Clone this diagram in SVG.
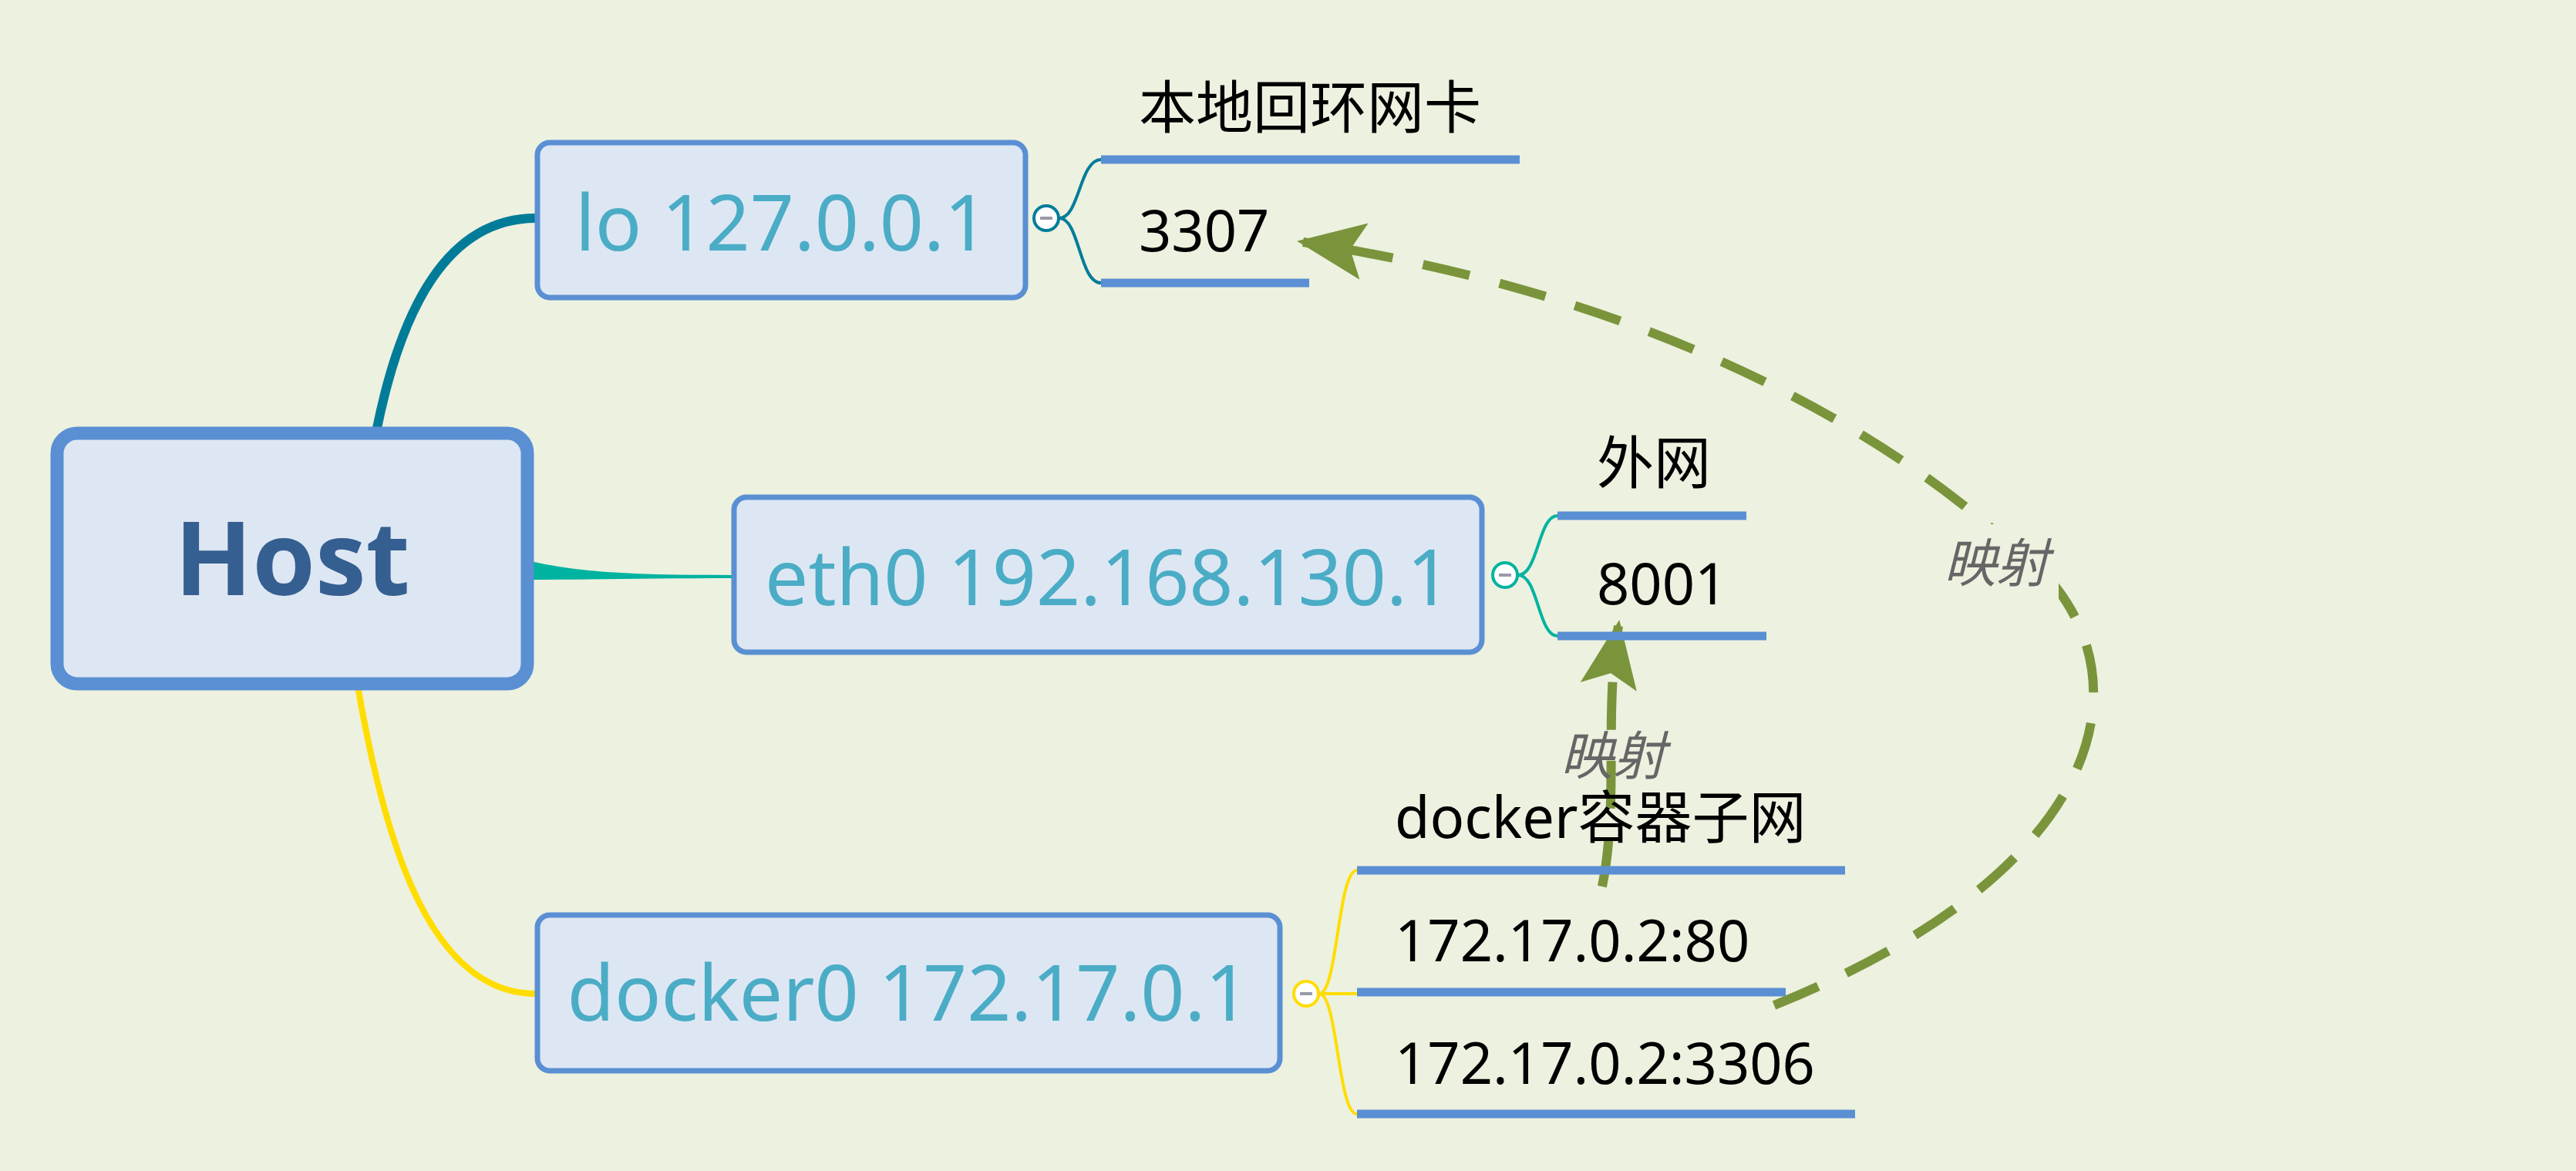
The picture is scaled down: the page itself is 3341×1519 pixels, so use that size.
<svg xmlns="http://www.w3.org/2000/svg" width="3341" height="1519" viewBox="0 0 3341 1519">
<style>
.box{fill:#dde7f3;stroke:#5a8fd4;stroke-width:7}
.nt{font-family:"Noto Sans","Liberation Sans",sans-serif;font-size:100px;fill:#4bacc6;text-anchor:middle}
.st{font-family:"Noto Sans","Noto Sans CJK SC",sans-serif;font-size:74px;fill:#000}
.ul{stroke:#5a8fd4;stroke-width:11}
.lab{font-family:"Noto Sans CJK SC",sans-serif;font-size:68px;font-style:italic;fill:#666;text-anchor:middle}
.dash{fill:none;stroke:#7a943c;stroke-width:12;stroke-dasharray:62 40}
.col{fill:#fff;stroke-width:4}
</style>
<defs>
<marker id="ah" markerUnits="userSpaceOnUse" markerWidth="90" markerHeight="90" viewBox="0 0 90 90" refX="80" refY="45" orient="auto">
<path d="M0 8 L88 45 L0 82 L18 45 Z" fill="#7a943c"/>
</marker>
</defs>
<rect width="3341" height="1519" fill="#edf1df"/>
<g id="connectors">
<path d="M488 560 C520 400 580 283 695 283" fill="none" stroke="#007c99" stroke-width="12"/>
<path d="M688 728 C760 745 850 746 950 746 L950 750 C850 750 760 752 688 752 Z" fill="#00b3a0"/>
<path d="M464 890 C500 1100 560 1289 695 1289" fill="none" stroke="#ffdd00" stroke-width="8"/>
<path d="M1374 283 C1400 283 1400 207 1428 207 M1374 283 C1400 283 1400 367 1428 367" fill="none" stroke="#007c99" stroke-width="4"/>
<path d="M1340 283 H1357" stroke="#007c99" stroke-width="4"/>
<path d="M1969 746 C1995 746 1995 669 2020 669 M1969 746 C1995 746 1995 825 2020 825" fill="none" stroke="#00b3a0" stroke-width="4"/>
<path d="M1711 1289 C1735 1289 1735 1129 1760 1129 M1711 1289 C1735 1289 1735 1445 1760 1445 M1711 1289 H1760" fill="none" stroke="#ffdd00" stroke-width="4"/>
<path d="M2301 1304 C2780 1110 2790 830 2600 700 C2420 540 2120 380 1690 314" class="dash" marker-end="url(#ah)"/>
<path d="M2078 1150 C2100 1040 2080 930 2099 812" class="dash" marker-end="url(#ah)"/>
</g>
<g id="host"><rect x="74" y="562" width="610" height="325" rx="26" fill="#dde7f3" stroke="#5a8fd4" stroke-width="17"/>
<text x="379" y="772" font-family="'Open Sans','Liberation Sans',sans-serif" font-weight="bold" font-size="132" fill="#365f91" text-anchor="middle">Host</text></g>
<g id="lo"><rect class="box" x="697" y="185" width="633" height="201" rx="16"/>
<text class="nt" x="1014" y="325">lo 127.0.0.1</text>
<circle class="col" cx="1357" cy="283" r="16" stroke="#007c99"/><path d="M1349 283h16" stroke="#99a" stroke-width="4"/></g>
<g id="eth0"><rect class="box" x="952" y="645" width="970" height="201" rx="16"/>
<text class="nt" x="1437" y="785">eth0 192.168.130.1</text>
<circle class="col" cx="1952" cy="746" r="16" stroke="#00b3a0"/><path d="M1944 746h16" stroke="#99a" stroke-width="4"/></g>
<g id="docker0"><rect class="box" x="697" y="1187" width="963" height="202" rx="16"/>
<text class="nt" x="1178" y="1324">docker0 172.17.0.1</text>
<circle class="col" cx="1694" cy="1289" r="16" stroke="#ffdd00"/><path d="M1686 1289h16" stroke="#99a" stroke-width="4"/></g>
<g id="lo-subs">
<text class="st" x="1477" y="166">本地回环网卡</text><line class="ul" x1="1428" y1="207" x2="1971" y2="207"/>
<text class="st" x="1477" y="326">3307</text><line class="ul" x1="1428" y1="367" x2="1698" y2="367"/>
</g>
<g id="eth0-subs">
<text class="st" x="2071" y="627">外网</text><line class="ul" x1="2020" y1="669" x2="2265" y2="669"/>
<text class="st" x="2071" y="784">8001</text><line class="ul" x1="2020" y1="825" x2="2291" y2="825"/>
</g>
<g id="docker-subs">
<text class="st" x="1809" y="1087">docker容器子网</text><line class="ul" x1="1760" y1="1129" x2="2393" y2="1129"/>
<text class="st" x="1809" y="1247">172.17.0.2:80</text><line class="ul" x1="1760" y1="1287" x2="2316" y2="1287"/>
<text class="st" x="1809" y="1406">172.17.0.2:3306</text><line class="ul" x1="1760" y1="1445" x2="2406" y2="1445"/>
</g>
<g id="labels">
<rect x="2510" y="680" width="160" height="100" fill="#edf1df"/>
<text class="lab" x="2589" y="755">映射</text>
<text class="lab" x="2092" y="1005">映射</text>
</g>
</svg>
